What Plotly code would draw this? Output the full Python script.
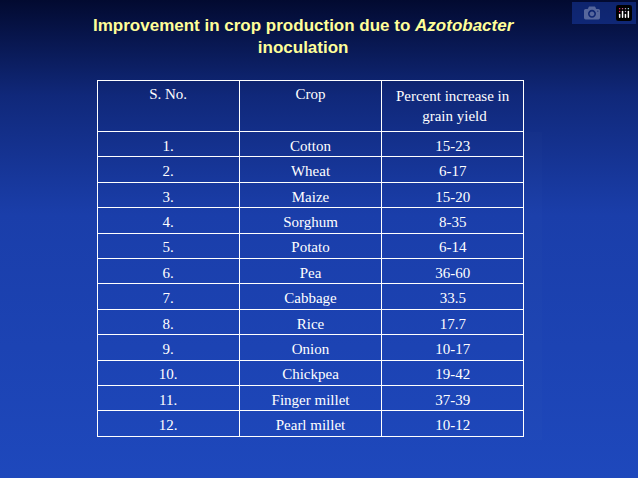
import plotly.graph_objects as go

headers = ["S. No.", "Crop", "Percent increase in<br>&nbsp;&nbsp;&nbsp;&nbsp;&nbsp;&nbsp;&nbsp;grain yield"]
serial = ["1.", "2.", "3.", "4.", "5.", "6.", "7.", "8.", "9.", "10.", "11.", "12."]
crops = ["Cotton", "Wheat", "Maize", "Sorghum", "Potato", "Pea", "Cabbage", "Rice",
         "Onion", "Chickpea", "Finger millet", "Pearl millet"]
increase = ["15-23", "6-17", "15-20", "8-35", "6-14", "36-60", "33.5", "17.7",
            "10-17", "19-42", "37-39", "10-12"]

fig = go.Figure()

fig.add_trace(go.Scatter(
    x=[0, 1, 1, 0, 0], y=[0, 0, 1, 1, 0], mode="lines", line=dict(width=0),
    fill="toself", hoverinfo="skip", showlegend=False,
    fillgradient=dict(type="vertical",
                      colorscale=[[0, "#1e48bc"], [0.55, "#1a3eaa"], [0.8, "#10287a"], [1, "#020a30"]]),
    xaxis="x", yaxis="y"))

fig.add_trace(go.Table(
    domain=dict(x=[97/638, 524/638], y=[1-440/478, 1-80/478]),
    columnwidth=[1, 1, 1],
    header=dict(values=headers, height=44, align="center",
                fill_color="rgba(0,0,0,0)", line=dict(color="white", width=1),
                font=dict(family="Liberation Serif", size=15, color="white")),
    cells=dict(values=[serial, crops, increase], height=25.4, align="center",
               fill_color="rgba(0,0,0,0)", line=dict(color="white", width=1),
               font=dict(family="Liberation Serif", size=15, color="white")),
))

fig.add_annotation(
    x=304/638, y=1-14/478, xref="paper", yref="paper", showarrow=False,
    xanchor="center", yanchor="top",
    text="<b>Improvement in crop production due to <i>Azotobacter</i><br>inoculation</b>",
    font=dict(family="Liberation Sans", size=17, color="#ffff99"), align="center")

fig.update_layout(
    width=638, height=478, margin=dict(l=0, r=0, t=0, b=0),
    paper_bgcolor="#1a3eaa", plot_bgcolor="rgba(0,0,0,0)",
    xaxis=dict(visible=False, range=[0, 1], domain=[0, 1], fixedrange=True),
    yaxis=dict(visible=False, range=[0, 1], domain=[0, 1], fixedrange=True),
    showlegend=False)

fig.write_html("out.html", post_script="document.body.style.margin='0';")
